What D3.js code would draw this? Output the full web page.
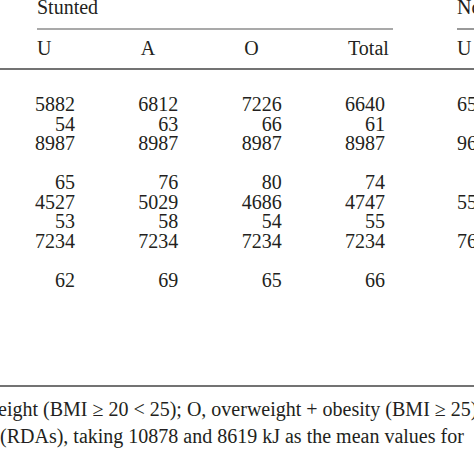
<!DOCTYPE html>
<html><head><meta charset="utf-8">
<script src="https://cdn.jsdelivr.net/npm/d3@7"></script>
<style>
body{margin:0;background:#fff;overflow:hidden}
text{font-family:"Liberation Serif","DejaVu Serif",serif;font-size:20px;fill:#231f20}
</style></head><body>
<svg></svg>
<script>
const columns = ["U", "A", "O", "Total"];
const rowValues = [
	[5882, 6812, 7226, 6640],
	[54, 63, 66, 61],
	[8987, 8987, 8987, 8987],
	[65, 76, 80, 74],
	[4527, 5029, 4686, 4747],
	[53, 58, 54, 55],
	[7234, 7234, 7234, 7234],
	[62, 69, 65, 66]
];
const rowSlots = [0, 1, 2, 4, 5, 6, 7, 9]; // blank lines in between
const nextGroup = ["65", "", "96", "", "55", "", "76", ""];
const footnotes = [
	"eight (BMI \u2265 20 < 25); O, overweight + obesity (BMI \u2265 25)",
	"(RDAs), taking 10878 and 8619 kJ as the mean values for"
];

const svg = d3.select("svg").attr("width", 474).attr("height", 474);

//* scales
const colRight = d3.scalePoint().domain(columns).range([75, 385]);
const colLeft = d3.scalePoint().domain(columns).range([37, 348]);
const rowY = d3.scaleLinear().domain([0, 9]).range([111, 287]);

//* header
svg.append("text").attr("x", 37).attr("y", 14).text("Stunted");
svg.append("text").attr("x", 457).attr("y", 14).text("No");
svg.append("line").attr("x1", 37).attr("x2", 393).attr("y1", 29).attr("y2", 29)
	.attr("stroke", "#555").attr("stroke-width", 1.2);
svg.append("line").attr("x1", 457).attr("x2", 474).attr("y1", 29).attr("y2", 29)
	.attr("stroke", "#555").attr("stroke-width", 1.2);
svg.selectAll("text.col").data(columns).enter().append("text")
	.attr("class", "col").attr("x", (d) => colLeft(d)).attr("y", 55).text((d) => d);
svg.append("text").attr("x", 457).attr("y", 55).text("U");
svg.append("line").attr("x1", 0).attr("x2", 474).attr("y1", 69).attr("y2", 69)
	.attr("stroke", "#444").attr("stroke-width", 1.5);

//* body rows
const rows = svg.selectAll("g.row").data(rowValues).enter().append("g")
	.attr("class", "row")
	.attr("transform", (_, i) => `translate(0, ${rowY(rowSlots[i])})`);
rows.selectAll("text").data((d) => d).enter().append("text")
	.attr("x", (_, j) => colRight(columns[j])).attr("text-anchor", "end")
	.text((d) => d);
rows.append("text").attr("x", 457).text((_, i) => nextGroup[i]);

//* bottom rule + footnotes
svg.append("line").attr("x1", 0).attr("x2", 474).attr("y1", 386).attr("y2", 386)
	.attr("stroke", "#444").attr("stroke-width", 1.5);
svg.selectAll("text.foot").data(footnotes).enter().append("text")
	.attr("class", "foot").attr("x", (_, i) => i ? 0 : -2).attr("y", (_, i) => 416 + i * 27)
	.text((d) => d);
</script>
</body></html>
